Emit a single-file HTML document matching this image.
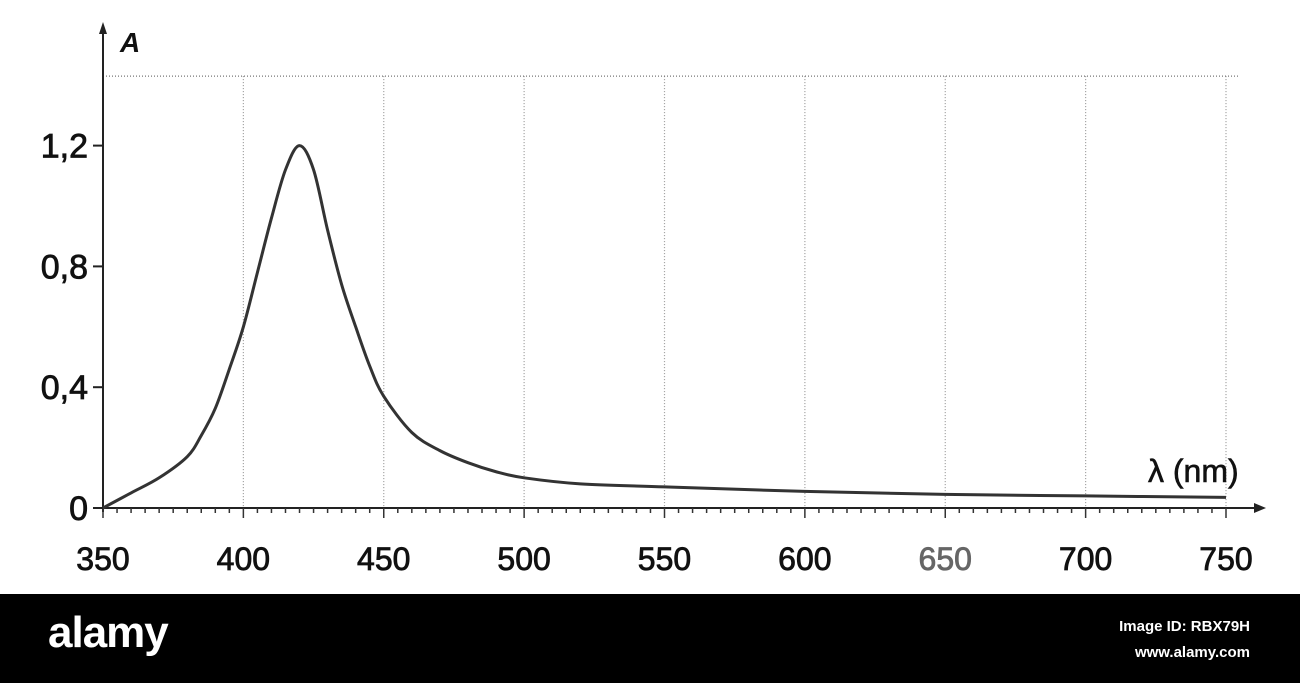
<!DOCTYPE html>
<html><head><meta charset="utf-8"><style>
body{margin:0;width:1300px;height:683px;overflow:hidden;background:#fff;font-family:"Liberation Sans",sans-serif}
#foot{position:absolute;left:0;top:594px;width:1300px;height:89px;background:#000;color:#fff}
</style></head><body>
<svg id="chart" width="1300" height="594" style="position:absolute;left:0;top:0">
<g id="grid"></g><g id="axes"></g><g id="plot"></g></svg>
<div id="foot">
<div style="position:absolute;left:48px;top:14px;font-size:44px;font-weight:bold;letter-spacing:-1px">alamy</div>
<div style="position:absolute;right:50px;top:24px;font-size:15px;font-weight:bold">Image ID: RBX79H</div>
<div style="position:absolute;right:50px;top:50px;font-size:15px;font-weight:bold">www.alamy.com</div>
</div>
<script>
const wavelengths=[350,360,370,380,385,390,395,400,405,410,415,420,425,430,435,440,445,450,460,470,480,490,500,520,550,600,650,700,750];
const absorbance=[0,0.05,0.1,0.17,0.24,0.33,0.46,0.6,0.78,0.96,1.12,1.2,1.12,0.92,0.74,0.6,0.47,0.37,0.25,0.19,0.15,0.12,0.1,0.08,0.07,0.055,0.045,0.04,0.035];
const xTicks=[350,400,450,500,550,600,650,700,750];
const yTicks=[0,0.4,0.8,1.2];
const yTickLabels=["0","0,4","0,8","1,2"];
const X=v=>103+(v-350)*2.8075;
const Y=v=>508-v*302;
const NS="http://www.w3.org/2000/svg";
function mk(t,a,p){const e=document.createElementNS(NS,t);for(const k in a)e.setAttribute(k,a[k]);p.appendChild(e);return e;}
const grid=document.getElementById('grid'),axes=document.getElementById('axes'),plot=document.getElementById('plot');
xTicks.slice(1).forEach(v=>{const l=mk('line',{x1:X(v),x2:X(v),y1:Y(1.43),y2:508,stroke:'#999','stroke-dasharray':'1 2','stroke-width':1.2},grid);

});
const tl=mk('line',{x1:103,x2:1240,y1:Y(1.43),y2:Y(1.43),stroke:'#777','stroke-dasharray':'1 2','stroke-width':1.2},grid);


const xa=mk('line',{x1:100,x2:1258,y1:508,y2:508,stroke:'#222','stroke-width':2},axes);


const xarr=mk('path',{d:'M1266 508 L1254 503 L1254 513 Z',fill:'#222'},axes);


const ya=mk('line',{x1:103,x2:103,y1:512,y2:28,stroke:'#222','stroke-width':2},axes);


const yarr=mk('path',{d:'M103 22 L99 34 L107 34 Z',fill:'#222'},axes);


for(let v=350;v<=750;v+=5){mk('line',{x1:X(v),x2:X(v),y1:508,y2:v%50==0?518:513,stroke:'#333','stroke-width':1.5},axes);}
xTicks.forEach(v=>{const t=mk('text',{x:X(v),y:570,'text-anchor':'middle','font-size':32,stroke:v==650?'#666':'#111','stroke-width':0.8,fill:v==650?'#666':'#111'},axes);t.textContent=v;

});
yTicks.forEach((v,i)=>{mk('line',{x1:93,x2:103,y1:Y(v),y2:Y(v),stroke:'#222','stroke-width':2},axes);
const t=mk('text',{x:88,y:Y(v)+12,'text-anchor':'end','font-size':34,stroke:'#111','stroke-width':0.8,fill:'#111'},axes);t.textContent=yTickLabels[i];

});
const yl=mk('text',{x:120,y:52,'font-size':28,'font-style':'italic','font-weight':'bold',fill:'#111'},axes);yl.textContent='A';


const xl=mk('text',{x:1148,y:482,'font-size':32,stroke:'#111','stroke-width':0.6,fill:'#111'},axes);xl.textContent='λ (nm)';


const pts=wavelengths.map((w,i)=>[X(w),Y(absorbance[i])]);
let d='M'+pts[0][0]+' '+pts[0][1];
for(let i=0;i<pts.length-1;i++){const p0=pts[i-1]||pts[i],p1=pts[i],p2=pts[i+1],p3=pts[i+2]||p2;
d+=` C${p1[0]+(p2[0]-p0[0])/6} ${p1[1]+(p2[1]-p0[1])/6} ${p2[0]-(p3[0]-p1[0])/6} ${p2[1]-(p3[1]-p1[1])/6} ${p2[0]} ${p2[1]}`;}
const c=mk('path',{d:d,fill:'none',stroke:'#333','stroke-width':3},plot);


</script>
</body></html>
